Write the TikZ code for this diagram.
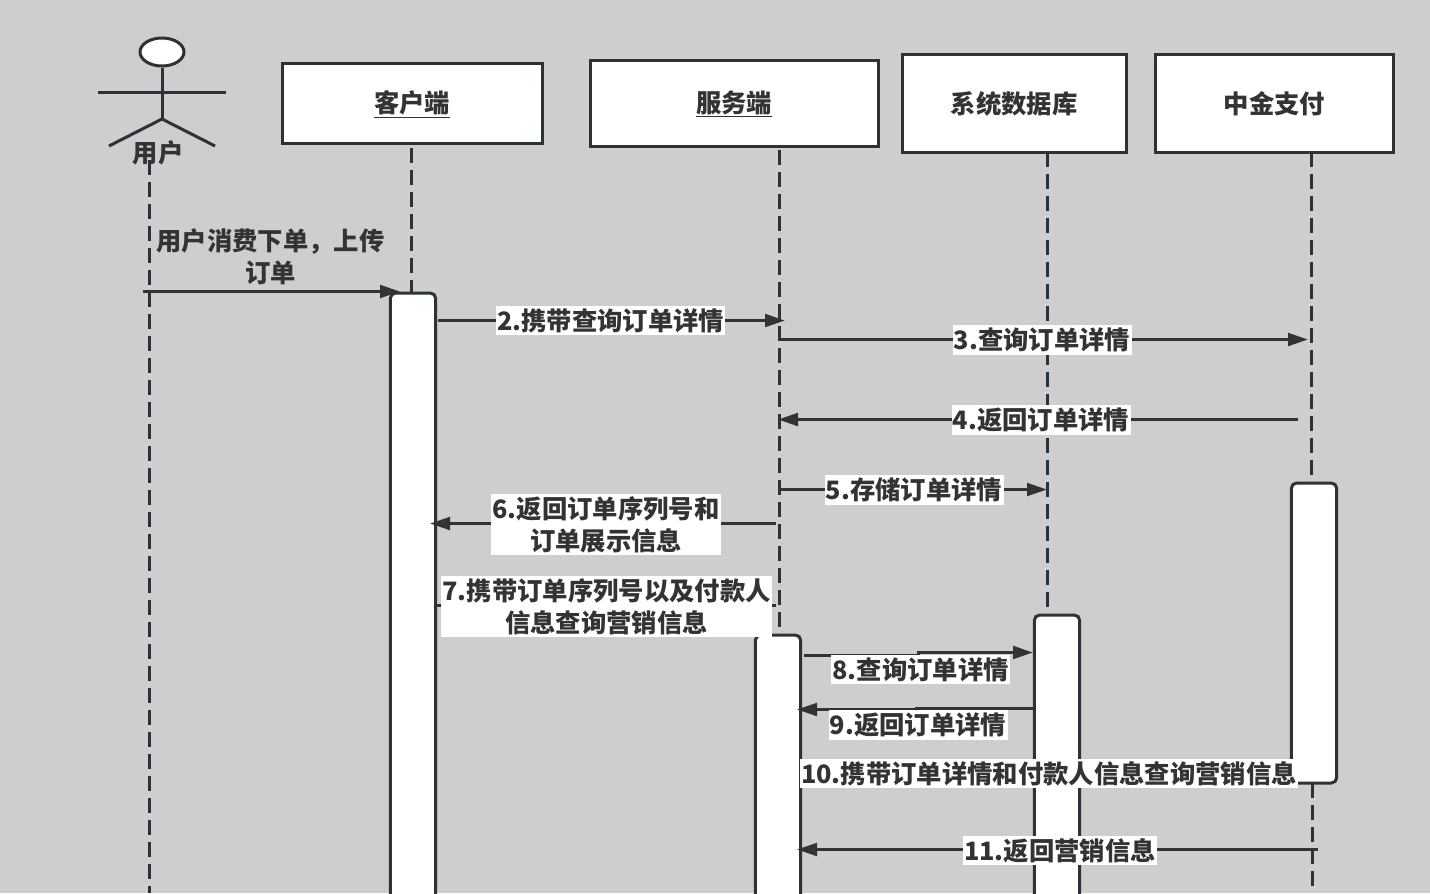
\documentclass[tikz,border=0pt]{standalone}
\usepackage{fontspec}
\setmainfont{Noto Sans CJK SC}
\usetikzlibrary{shapes,arrows.meta,positioning}
\definecolor{pagegrey}{HTML}{CECECE}
\definecolor{edgeink}{HTML}{2B3238}
\definecolor{textink}{HTML}{333333}

\begin{document}
\begin{tikzpicture}
    %% setup
    [
        x=0.75pt, y=-0.75pt,
        headbox/.style={rectangle, draw=edgeink, fill=white, line width=2.25pt, inner sep=0pt, text=textink, font=\fontsize{19}{24}\selectfont\bfseries},
        activebox/.style={rectangle, rounded corners=4pt, draw=edgeink, fill=white, line width=2.25pt, minimum width=34pt, inner sep=0pt},
        lifeline/.style={draw=edgeink, line width=2.25pt, dash pattern=on 11pt off 5.5pt},
        msgline/.style={draw=textink, line width=2.25pt},
        msgarrow/.style={msgline, -{Triangle[length=15pt, width=9.5pt]}},
        msglabel/.style={fill=white, text=textink, inner xsep=1pt, inner ysep=2pt, align=center, font=\fontsize{19}{24}\selectfont\bfseries},
        plaintext/.style={text=textink, inner sep=0pt, align=center, font=\fontsize{19}{24}\selectfont\bfseries},
    ]
    \useasboundingbox (0,0) rectangle (1430,893);
    \clip (0,0) rectangle (1430,893);
    \fill[pagegrey] (0,0) rectangle (1430,893);

    %% Lifelines
    \coordinate (usertop) at (149.5,160);    \coordinate (userend) at (149.5,893);
    \coordinate (clienttop) at (411.5,148);  \coordinate (clientend) at (411.5,293);
    \coordinate (servertop) at (779.5,150);  \coordinate (serverend) at (779.5,635);
    \coordinate (dbtop) at (1047.5,152);     \coordinate (dbend) at (1047.5,615);
    \coordinate (paytop) at (1311.5,152);    \coordinate (payend) at (1311.5,483);
    \coordinate (paylow) at (1312.5,783);    \coordinate (paylowend) at (1312.5,893);
    \draw[lifeline] (usertop) -- (userend);
    \draw[lifeline] (clienttop) -- (clientend);
    \draw[lifeline] (servertop) -- (serverend);
    \draw[lifeline] (dbtop) -- (dbend);
    \draw[lifeline] (paytop) -- (payend);
    \draw[lifeline] (paylow) -- (paylowend);

    %% Actor
    \node [ellipse, draw=edgeink, fill=white, line width=2.25pt, minimum width=33pt, minimum height=21pt, inner sep=0pt] (actorhead) at (162,52) {};
    \coordinate (actorhip) at (162,119);
    \coordinate (armleft) at (98,92);    \coordinate (armright) at (226,92);
    \coordinate (legleft) at (109,146);  \coordinate (legright) at (215,146);
    \draw[edgeink, line width=2.25pt] (actorhead.south) -- (actorhip);
    \draw[edgeink, line width=2.25pt] (armleft) -- (armright);
    \draw[edgeink, line width=2.25pt] (legleft) -- (actorhip) -- (legright);
    \node [plaintext] (usertext) at (158,153) {用户};

    %% Nodes
    \node [headbox, minimum width=195pt, minimum height=60pt] (clientbox) at (412,103) {\raisebox{-0.75pt}[\height][\depth]{\underline{客户端}}};
    \node [headbox, minimum width=216pt, minimum height=64.5pt] (serverbox) at (734,103) {\raisebox{-0.75pt}[\height][\depth]{\underline{服务端}}};
    \node [headbox, minimum width=168pt, minimum height=73.5pt] (dbbox) at (1014,103) {\raisebox{-0.75pt}[\height][\depth]{系统数据库}};
    \node [headbox, minimum width=179pt, minimum height=73.5pt] (paybox) at (1274.5,103) {\raisebox{-0.75pt}[\height][\depth]{中金支付}};
    \node [activebox, minimum height=480pt] (clientactive) at (413,613) {};
    \node [activebox, minimum height=240pt] (serveractive) at (778,795) {};
    \node [activebox, minimum height=300pt] (dbactive) at (1057,815) {};
    \node [activebox, minimum height=225pt] (payactive) at (1314,633) {};

    %% Lines
    \coordinate (msgastart) at (143,291.5);   \coordinate (msgaend) at (400,291.5);
    \coordinate (msgbstart) at (438,320.5);   \coordinate (msgbend) at (785,320.5);
    \coordinate (msgcstart) at (779,339.5);   \coordinate (msgcend) at (1308,339.5);
    \coordinate (msgdstart) at (1298,419.5);  \coordinate (msgdend) at (778,419.5);
    \coordinate (msgestart) at (779,489.5);   \coordinate (msgeend) at (1047,489.5);
    \coordinate (msgfstart) at (776,523.5);   \coordinate (msgfend) at (430,523.5);
    \coordinate (msggstart) at (436,605);     \coordinate (msggend) at (776,605);
    \coordinate (msghstart) at (804,655.5);   \coordinate (msghend) at (1033,652.5);
    \coordinate (msgistart) at (1034,708);    \coordinate (msgiend) at (797,709.5);
    \coordinate (msgkstart) at (1318,849.5);  \coordinate (msgkend) at (797,849.5);
    \draw[msgarrow] (msgastart) -- (msgaend);
    \draw[msgarrow] (msgbstart) -- (msgbend);
    \draw[msgarrow] (msgcstart) -- (msgcend);
    \draw[msgarrow] (msgdstart) -- (msgdend);
    \draw[msgarrow] (msgestart) -- (msgeend);
    \draw[msgarrow] (msgfstart) -- (msgfend);
    \draw[msgline] (msggstart) -- (msggend);
    \draw[msgarrow] (msghstart) -- (918,655.5) -- (918,652.5) -- (msghend);
    \draw[msgarrow] (msgistart) -- (916,708) -- (916,709.5) -- (msgiend);
    \draw[msgarrow] (msgkstart) -- (msgkend);

    %% Labels
    \node [plaintext] (msgatext) at (270.5,256.5) {用户消费下单，上传\\订单};
    \node [msglabel] (msgbtext) at (610.5,320.5) {2.携带查询订单详情};
    \node [msglabel] (msgctext) at (1042,340) {3.查询订单详情};
    \node [msglabel] (msgdtext) at (1041,420) {4.返回订单详情};
    \node [msglabel] (msgetext) at (914,490) {5.存储订单详情};
    \node [msglabel] (msgftext) at (606,524.5) {6.返回订单序列号和\\订单展示信息};
    \node [msglabel] (msggtext) at (606.5,606.5) {7.携带订单序列号以及付款人\\信息查询营销信息};
    \node [msglabel] (msghtext) at (920.5,669.5) {8.查询订单详情};
    \node [msglabel] (msgitext) at (918,725) {9.返回订单详情};
    \node [msglabel] (msgjtext) at (1049,773.5) {10.携带订单详情和付款人信息查询营销信息};
    \node [msglabel] (msgktext) at (1060,850.5) {11.返回营销信息};
\end{tikzpicture}
\end{document}
